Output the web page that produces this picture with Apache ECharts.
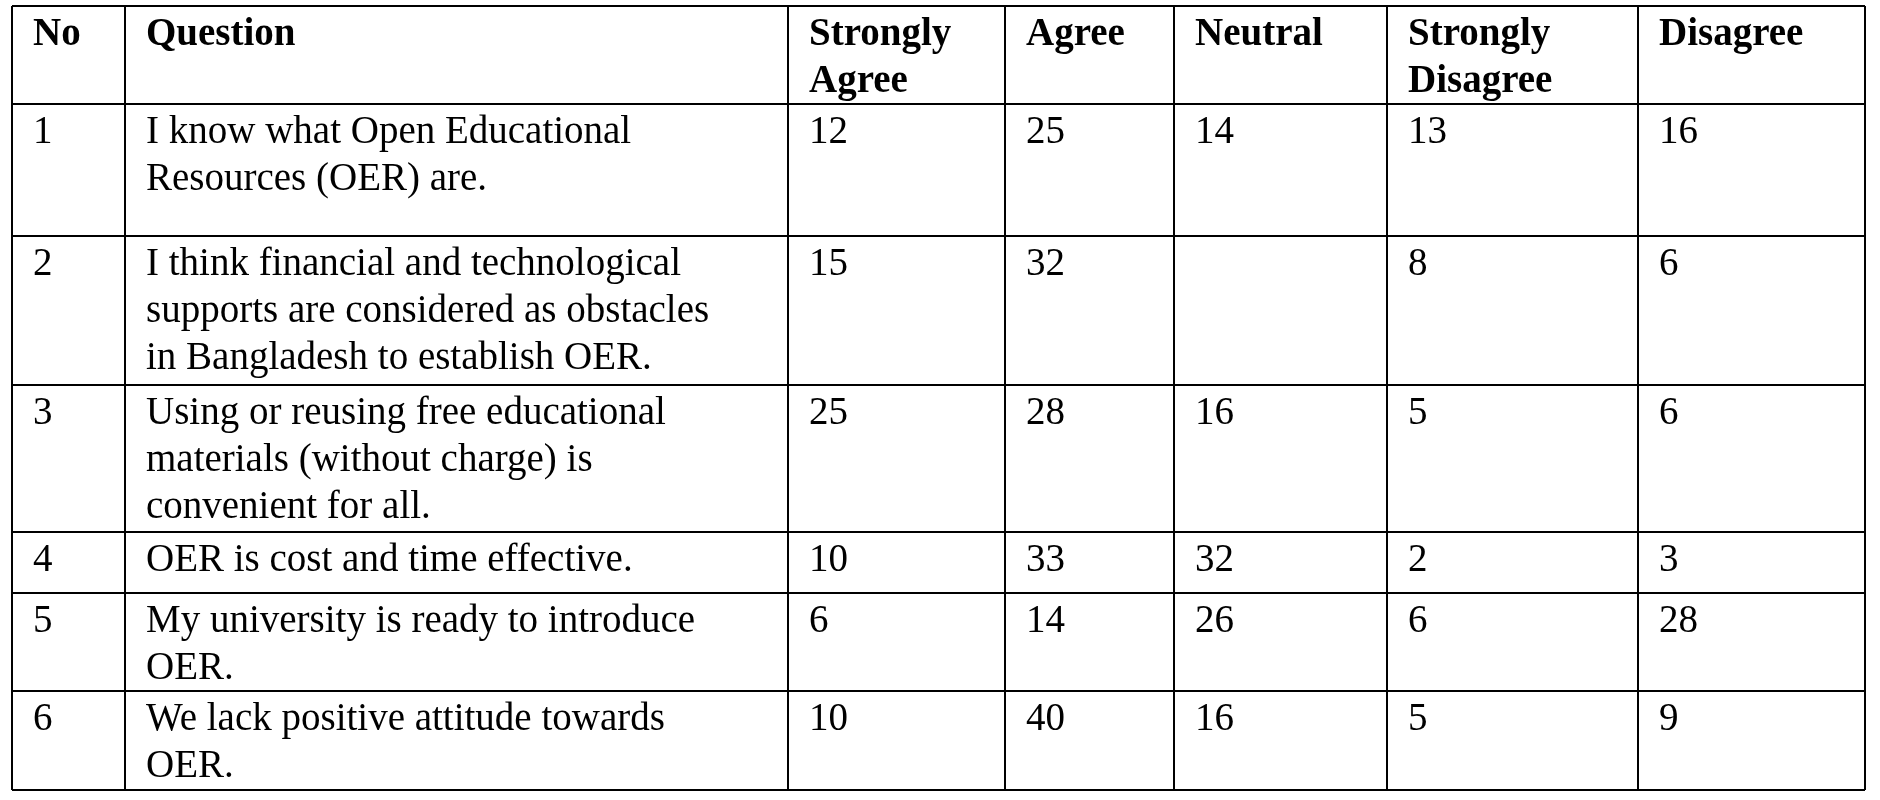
<!DOCTYPE html>
<html>
<head>
<meta charset="utf-8">
<script src="https://cdn.jsdelivr.net/npm/echarts@6/dist/echarts.min.js"></script>
<style>
  html, body { margin: 0; padding: 0; background: #fff; }
  #chart { width: 1880px; height: 800px; }
</style>
</head>
<body>
<div id="chart"></div>
<script>
// table data
var headers = ['No', 'Question', 'Strongly\nAgree', 'Agree', 'Neutral', 'Strongly\nDisagree', 'Disagree'];
var numbers = ['1', '2', '3', '4', '5', '6'];
var questions = [
  'I know what Open Educational\nResources (OER) are.',
  'I think financial and technological\nsupports are considered as obstacles\nin Bangladesh to establish OER.',
  'Using or reusing free educational\nmaterials (without charge) is\nconvenient for all.',
  'OER is cost and time effective.',
  'My university is ready to introduce\nOER.',
  'We lack positive attitude towards\nOER.'
];
var stronglyAgree = [12, 15, 25, 10, 6, 10];
var agree = [25, 32, 28, 33, 14, 40];
var neutral = [14, null, 16, 32, 26, 16];
var stronglyDisagree = [13, 8, 5, 2, 6, 5];
var disagree = [16, 6, 6, 3, 28, 9];

// layout (grid lines in px)
var colLines = [12, 125, 788, 1005, 1174, 1387, 1638, 1865];
var rowLines = [6, 104, 236, 385, 532, 593, 691, 790];

var chart = echarts.init(document.getElementById('chart'));
var els = [];
var font = '"Liberation Serif", "Times New Roman", serif';

colLines.forEach(function (x) {
  els.push({ type: 'line', shape: { x1: x, y1: rowLines[0], x2: x, y2: rowLines[rowLines.length - 1] },
    style: { stroke: '#000', lineWidth: 2 } });
});
rowLines.forEach(function (y) {
  els.push({ type: 'line', shape: { x1: colLines[0], y1: y, x2: colLines[colLines.length - 1], y2: y },
    style: { stroke: '#000', lineWidth: 2 } });
});

function cell(text, c, r, bold) {
  if (text === null || text === undefined) return;
  els.push({ type: 'text', x: colLines[c] + 21, y: rowLines[r] + 5,
    style: { text: String(text), font: (bold ? 'bold ' : '') + '39px ' + font,
      lineHeight: 47, fill: '#000', verticalAlign: 'top' } });
}

headers.forEach(function (h, c) { cell(h, c, 0, true); });
var cols = [numbers, questions, stronglyAgree, agree, neutral, stronglyDisagree, disagree];
for (var r = 0; r < numbers.length; r++) {
  for (var c = 0; c < cols.length; c++) cell(cols[c][r], c, r + 1, false);
}

chart.setOption({ animation: false, graphic: { elements: els } });
</script>
</body>
</html>
